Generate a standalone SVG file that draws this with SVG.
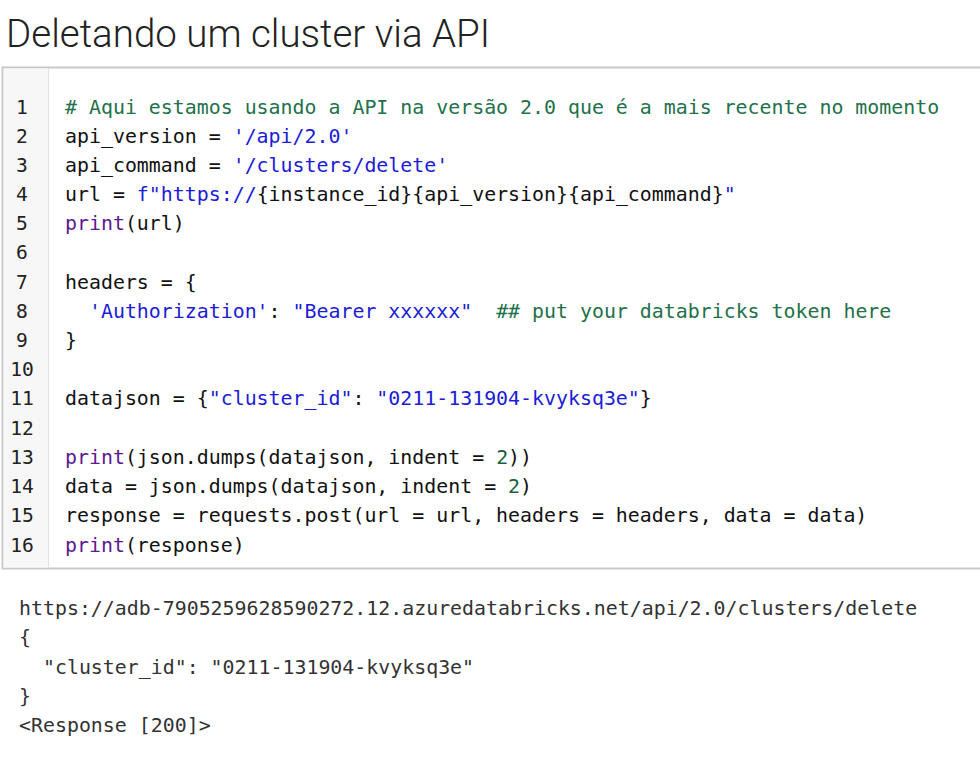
<svg xmlns="http://www.w3.org/2000/svg" width="980" height="759" viewBox="0 0 980 759" xml:space="preserve">
<style>
.c{font-family:"DejaVu Sans Mono","Liberation Mono",monospace;font-size:19.9px;fill:#111;white-space:pre}
.n{font-family:"DejaVu Sans Mono",monospace;font-size:19.6px;fill:#222;text-anchor:middle}
.cm{fill:#22714a}.s{fill:#1c1cd6}.k{fill:#5b1a92}.num{fill:#1b6040}
.o{font-family:"DejaVu Sans Mono","Liberation Mono",monospace;font-size:19.9px;fill:#333;white-space:pre}
</style>
<rect width="980" height="759" fill="#fff"/>
<text x="6" y="47" font-family="Roboto,'Open Sans',sans-serif" font-weight="300" font-size="38.5" fill="#222">Deletando um cluster via API</text>
<g id="code">
<rect x="2.5" y="67.5" width="980" height="501" fill="#fff" stroke="#c8c8c8" stroke-width="2"/>
<rect x="3.5" y="68.5" width="45" height="499" fill="#f7f7f7"/>
<line x1="48.5" y1="68" x2="48.5" y2="568" stroke="#e2e2e2"/>
<g class="n">
<text x="22" y="114">1</text><text x="22" y="143">2</text><text x="22" y="172">3</text><text x="22" y="201">4</text>
<text x="22" y="230">5</text><text x="22" y="259">6</text><text x="22" y="289">7</text><text x="22" y="318">8</text>
<text x="22" y="347">9</text><text x="22" y="376">10</text><text x="22" y="405">11</text><text x="22" y="435">12</text>
<text x="22" y="464">13</text><text x="22" y="493">14</text><text x="22" y="522">15</text><text x="22" y="552">16</text>
</g>
<g class="c">
<text x="65" y="114" class="c cm"># Aqui estamos usando a API na versão 2.0 que é a mais recente no momento</text>
<text x="65" y="143" class="c">api_version = <tspan class="s">'/api/2.0'</tspan></text>
<text x="65" y="172" class="c">api_command = <tspan class="s">'/clusters/delete'</tspan></text>
<text x="65" y="201" class="c">url = <tspan class="s">f"https://</tspan>{instance_id}{api_version}{api_command}<tspan class="s">"</tspan></text>
<text x="65" y="230" class="c"><tspan class="k">print</tspan>(url)</text>
<text x="65" y="289" class="c">headers = {</text>
<text x="65" y="318" class="c">  <tspan class="s">'Authorization'</tspan>: <tspan class="s">"Bearer xxxxxx"</tspan>  <tspan class="cm">## put your databricks token here</tspan></text>
<text x="65" y="347" class="c">}</text>
<text x="65" y="405" class="c">datajson = {<tspan class="s">"cluster_id"</tspan>: <tspan class="s">"0211-131904-kvyksq3e"</tspan>}</text>
<text x="65" y="464" class="c"><tspan class="k">print</tspan>(json.dumps(datajson, indent = <tspan class="num">2</tspan>))</text>
<text x="65" y="493" class="c">data = json.dumps(datajson, indent = <tspan class="num">2</tspan>)</text>
<text x="65" y="522" class="c">response = requests.post(url = url, headers = headers, data = data)</text>
<text x="65" y="552" class="c"><tspan class="k">print</tspan>(response)</text>
</g>
</g>
<g id="output">
<text x="19" y="615" class="o">https://adb-7905259628590272.12.azuredatabricks.net/api/2.0/clusters/delete</text>
<text x="19" y="644" class="o">{</text>
<text x="19" y="674" class="o">  "cluster_id": "0211-131904-kvyksq3e"</text>
<text x="19" y="703" class="o">}</text>
<text x="19" y="732" class="o">&lt;Response [200]&gt;</text>
</g>
</svg>
